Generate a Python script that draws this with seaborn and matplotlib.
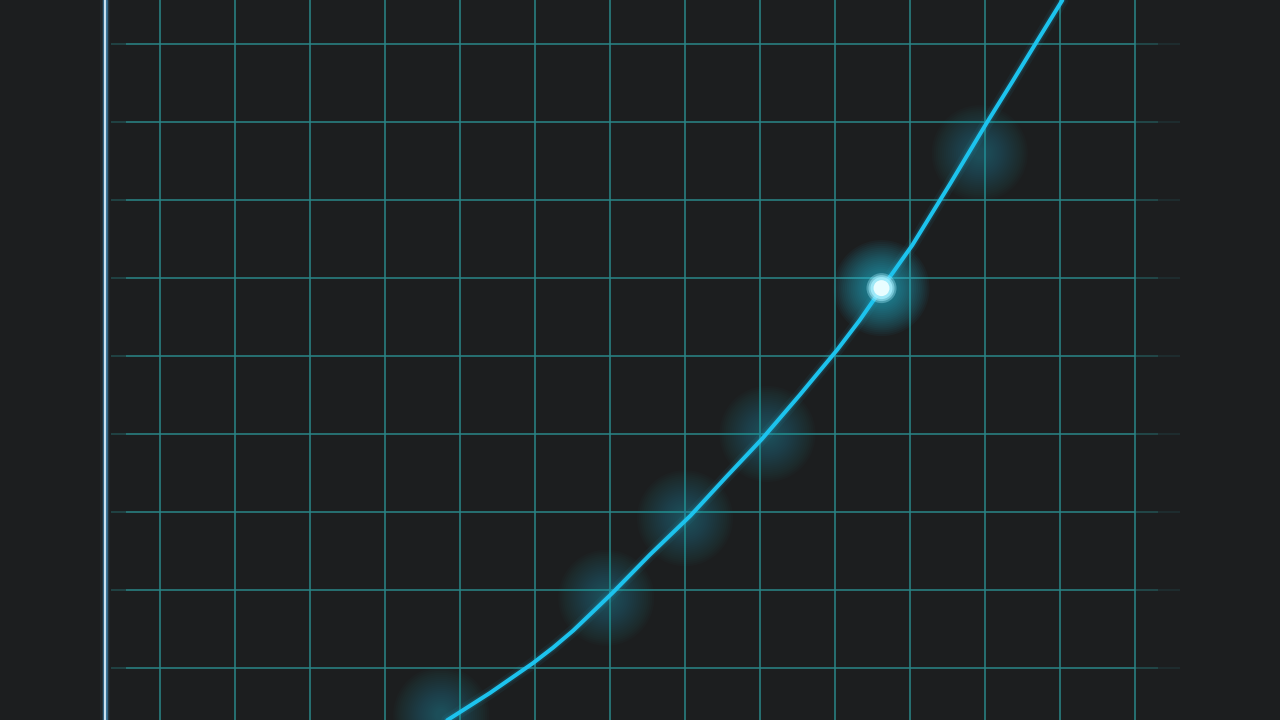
import numpy as np
import pandas as pd
import matplotlib
matplotlib.use("Agg")
import matplotlib.pyplot as plt
import seaborn as sns

# ---- data (grid units) ----
curve_x = [3.83, 4.40, 4.97, 5.24, 5.51, 5.76, 6.03, 6.53, 7.07, 7.55, 8.03,
           8.53, 9.03, 9.33, 9.64, 10.03, 10.53, 11.03, 11.36, 11.69, 12.03]
curve_y = [-0.67, -0.32, 0.06, 0.26, 0.48, 0.71, 0.96, 1.45, 1.95, 2.45, 2.94,
           3.50, 4.08, 4.46, 4.89, 5.42, 6.20, 7.00, 7.51, 8.03, 8.56]

glow_x = [3.75, 5.95, 7.0, 8.1, 10.93]
glow_y = [-0.6, 0.9, 1.92, 3.0, 6.6]

hot_x = [9.62]
hot_y = [4.87]

grid_x = list(range(0, 14))
grid_y = list(range(0, 9))
axis_x = [-0.733]

BG = "#1c1e1f"
GRID = "#2a8587"
CYAN = "#1cc3ee"

sns.set_theme(style="dark", rc={"axes.facecolor": BG, "figure.facecolor": BG})

fig = plt.figure(figsize=(12.8, 7.2), dpi=100)
ax = fig.add_axes([0, 0, 1, 1])
ax.set_facecolor(BG)

# grid lines
for gx in grid_x:
    ax.axvline(gx, color=GRID, lw=1.4, alpha=0.8, zorder=1)
for gy in grid_y:
    ax.hlines(gy, -0.45, 13.0, color=GRID, lw=1.4, alpha=0.8, zorder=1)
    ax.hlines(gy, 13.0, 13.3, color=GRID, lw=1.4, alpha=0.4, zorder=1)
    ax.hlines(gy, 13.3, 13.6, color=GRID, lw=1.4, alpha=0.15, zorder=1)
    ax.hlines(gy, -0.65, -0.45, color=GRID, lw=1.4, alpha=0.35, zorder=1)

# left axis line with glow
for w, a in [(10, 0.05), (7, 0.12), (4.5, 0.5)]:
    ax.axvline(axis_x[0], color="#4fb4f5", lw=w * 0.72, alpha=a, zorder=2)
ax.axvline(axis_x[0], color="#e0f4ff", lw=1.3, alpha=0.95, zorder=3)

df = pd.DataFrame({"x": curve_x, "y": curve_y})
gdf = pd.DataFrame({"x": glow_x, "y": glow_y})
hdf = pd.DataFrame({"x": hot_x, "y": hot_y})

# soft glows (many thin layers to give a smooth falloff)
for r in np.linspace(48, 6, 22):
    s = (2 * r * 0.72) ** 2
    sns.scatterplot(data=gdf, x="x", y="y", s=s, color="#1fa8c8", alpha=0.022,
                    edgecolor="none", ax=ax, zorder=2, legend=False)
for r in np.linspace(48, 8, 22):
    s = (2 * r * 0.72) ** 2
    sns.scatterplot(data=hdf, x="x", y="y", s=s, color="#2ad0f0", alpha=0.04,
                    edgecolor="none", ax=ax, zorder=2, legend=False)

# curve glow + curve
sns.lineplot(data=df, x="x", y="y", color=CYAN, lw=12 * 0.72, alpha=0.06,
             ax=ax, zorder=3, sort=False, legend=False)
sns.lineplot(data=df, x="x", y="y", color=CYAN, lw=7 * 0.72, alpha=0.12,
             ax=ax, zorder=3, sort=False, legend=False)
sns.lineplot(data=df, x="x", y="y", color=CYAN, lw=4 * 0.72, alpha=1.0,
             ax=ax, zorder=4, sort=False, legend=False)
for ln in ax.get_lines():
    ln.set_solid_joinstyle("round")
    ln.set_solid_capstyle("round")

# hot point core
for r, a in [(15, 0.35), (13, 0.5), (11, 0.8)]:
    sns.scatterplot(data=hdf, x="x", y="y", s=(2 * r * 0.72) ** 2, color="#a8f0ff",
                    alpha=a, edgecolor="none", ax=ax, zorder=5, legend=False)
sns.scatterplot(data=hdf, x="x", y="y", s=(2 * 8 * 0.72) ** 2, color="#e8fdff",
                alpha=1.0, edgecolor="none", ax=ax, zorder=6, legend=False)

ax.set_xlim(-2.133, 14.933)
ax.set_ylim(-0.667, 8.564)
ax.set_axis_off()
fig.savefig("out.png", dpi=100, facecolor=BG)
